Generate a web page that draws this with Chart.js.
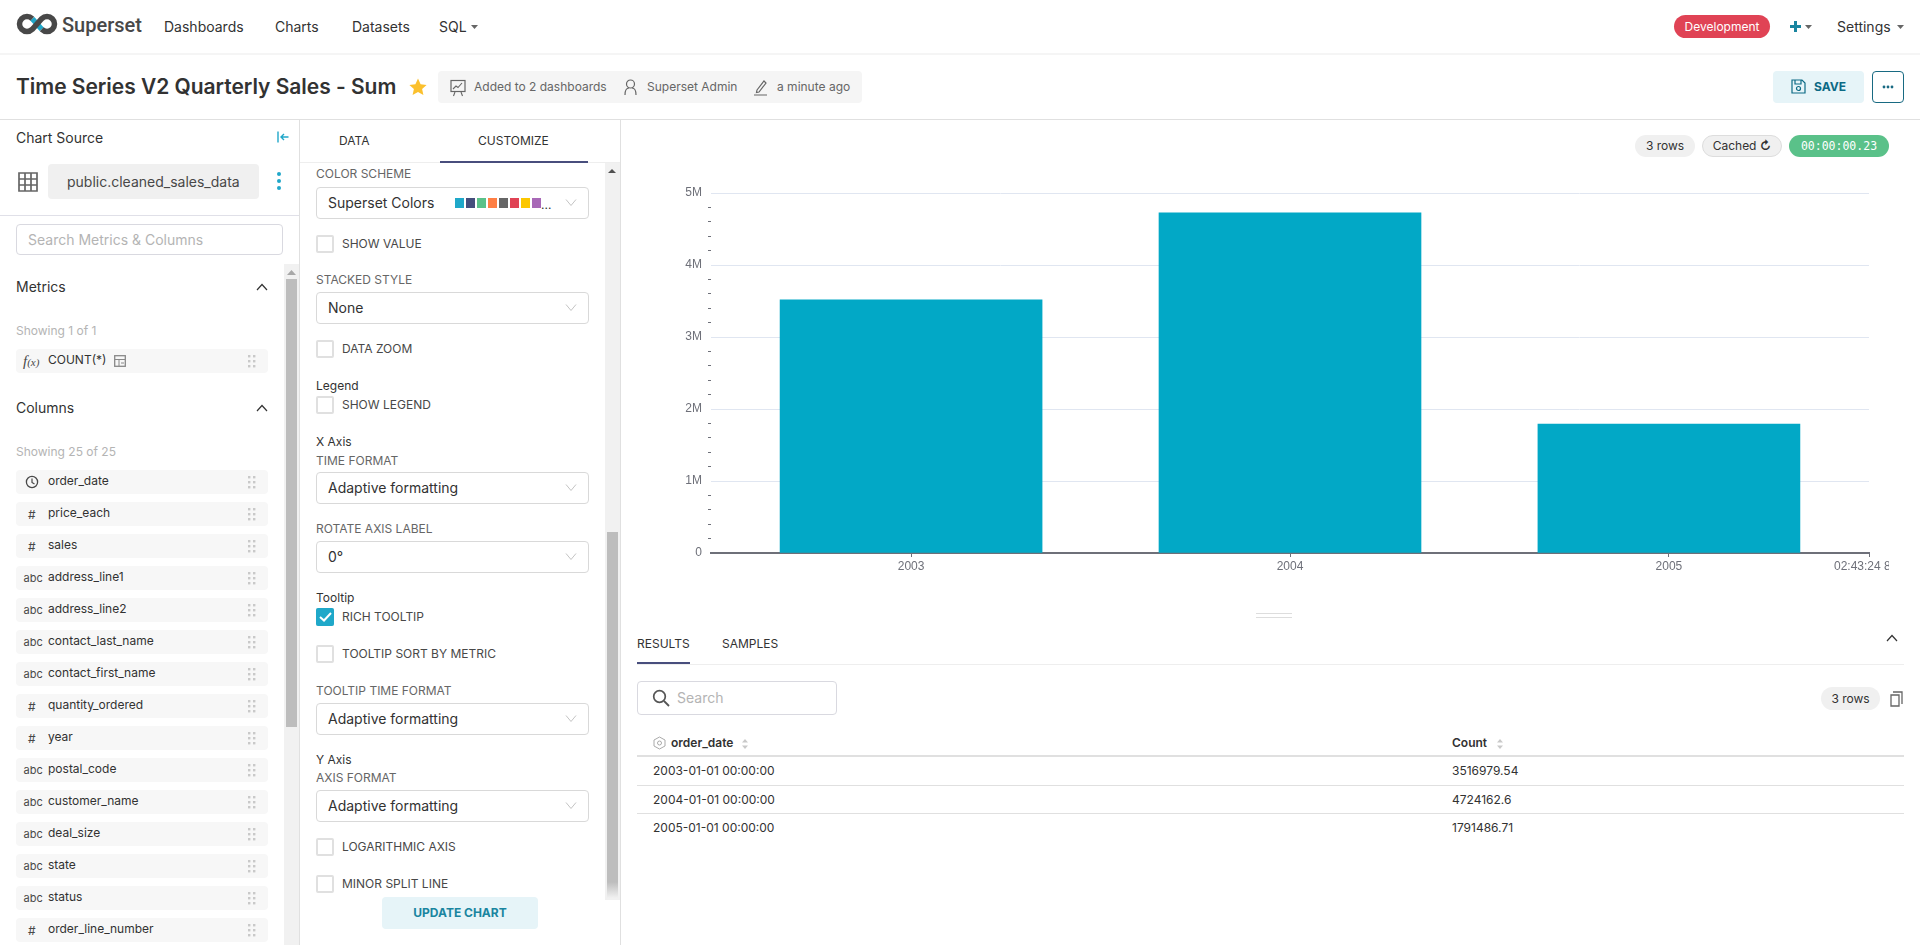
<!DOCTYPE html>
<html>
<head>
<meta charset="utf-8">
<title>Time Series V2 Quarterly Sales - Sum</title>
<script src="https://cdn.jsdelivr.net/npm/chart.js@4/dist/chart.umd.js"></script>
<style>
  html, body { margin: 0; height: 100%; background: #fff; overflow: hidden; }
  body { font-family: Inter, "Noto Sans", sans-serif; color: #323232; font-size: 14px; position: relative; width: 1920px; height: 945px; }
  .a { position: absolute; white-space: nowrap; }
  .t { position: absolute; white-space: nowrap; transform: translateY(-50%); line-height: 1.2; }
  .s12 { font-size: 12px; }
  .grey { color: #666; }
  .light { color: #b4b4b4; }
  .sel { position: absolute; left: 316px; width: 271px; height: 30px; border: 1px solid #d9d9d9; border-radius: 4px; background: #fff; }
  .sel span { position: absolute; left: 11px; top: calc(50% - 1px); transform: translateY(-50%); font-size: 14px; color: #323232; }
  .sel svg { position: absolute; right: 11px; top: 10px; }
  .cb { position: absolute; left: 316px; width: 14px; height: 14px; border: 2px solid #e0e0e0; border-radius: 2px; background: #fff; }
  .row { position: absolute; left: 16px; width: 252px; height: 24px; background: #f7f7f7; border-radius: 4px; }
  .pill { position: absolute; border-radius: 12px; font-size: 12px; text-align: center; box-sizing: border-box; }
  #chartClip { position: absolute; left: 620px; top: 120px; width: 1269px; height: 480px; overflow: hidden; }
  #chartBox { position: relative; width: 1300px; height: 480px; }
</style>
</head>
<body>

<div id="chrome"></div>

<div id="chartClip"><div id="chartBox"><canvas id="myChart"></canvas></div></div>

<script>
const years = [2003, 2004, 2005];
const orderDates = ['2003-01-01 00:00:00', '2004-01-01 00:00:00', '2005-01-01 00:00:00'];
const salesValues = [3516979.54, 4724162.6, 1791486.71];
const yTickValues = [0, 200000, 400000, 600000, 800000, 1000000, 1200000, 1400000, 1600000, 1800000, 2000000, 2200000, 2400000, 2600000, 2800000, 3000000, 3200000, 3400000, 3600000, 3800000, 4000000, 4200000, 4400000, 4600000, 4800000, 5000000];
const yMajorLabels = { 0: '0', 1000000: '1M', 2000000: '2M', 3000000: '3M', 4000000: '4M', 5000000: '5M' };
const xAxisStart = 2002.472;
const xAxisEnd = 2005.528;
const xEndLabel = '02:43:24 856';

const metricsColumns = [
    ['clock', 'order_date'], ['#', 'price_each'], ['#', 'sales'], ['abc', 'address_line1'], ['abc', 'address_line2'],
    ['abc', 'contact_last_name'], ['abc', 'contact_first_name'], ['#', 'quantity_ordered'], ['#', 'year'],
    ['abc', 'postal_code'], ['abc', 'customer_name'], ['abc', 'deal_size'], ['abc', 'state'], ['abc', 'status'],
    ['#', 'order_line_number']
];
const schemeColors = ['#1FA8C9', '#454E7C', '#5AC189', '#FF7F44', '#666666', '#E04355', '#FCC700', '#A868B7'];

// page chrome around the chart
let html = '';
const text = (x, y, str, cls = '', style = '') => { html += `<div class="t ${cls}" style="left:${x}px;top:${y}px;${style}">${str}</div>`; };
const box = (x, y, w, h, style = '') => { html += `<div class="a" style="left:${x}px;top:${y}px;width:${w}px;height:${h}px;${style}"></div>`; };
const chevron = '<svg width="12" height="9" viewBox="0 0 12 9"><path d="M1 1.5 L6 7.5 L11 1.5" fill="none" stroke="#c4c4c4" stroke-width="1"/></svg>';
const svg = (x, y, w, h, inner) => { html += `<svg class="a" style="left:${x}px;top:${y}px" width="${w}" height="${h}" viewBox="0 0 ${w} ${h}">${inner}</svg>`; };
const caret = (x, y, c = '#666') => svg(x, y, 7, 4, `<path d="M0 0 L7 0 L3.5 4 Z" fill="${c}"/>`);
const upChevron = (x, y) => svg(x, y, 12, 8, '<path d="M1 7 L6 1.5 L11 7" fill="none" stroke="#323232" stroke-width="1.2"/>');
const select = (y, label) => { html += `<div class="sel" style="top:${y}px"><span>${label}</span>${chevron}</div>`; };
const check = (y, label) => { html += `<div class="cb" style="top:${y}px"></div>`; text(342, y + 9, label, 's12', 'color:#484848'); };
const dragDots = (x, y) => {
    let d = '';
    for (const r of [0, 5, 10]) for (const c of [0, 5]) d += `<rect x="${c}" y="${r}" width="2.4" height="2.4" fill="#c9c9c9"/>`;
    svg(x, y, 8, 13, d);
};

// top nav
box(0, 53, 1920, 2, 'background:#f5f5f5');
svg(15, 13, 44, 22, '<path d="M17.3 5.7 L26.7 16.3" fill="none" stroke="#20A7C9" stroke-width="5.5"/><path d="M17.3 5.7 A7.5 7.5 0 1 0 17.3 16.3 L26.7 5.7 A7.5 7.5 0 1 1 26.7 16.3" fill="none" stroke="#484848" stroke-width="5.5"/>');
text(62, 25, 'Superset', '', 'font-family:Roboto,sans-serif;font-size:20px;font-weight:500;color:#484848');
text(164, 27, 'Dashboards');
text(275, 27, 'Charts');
text(352, 27, 'Datasets');
text(439, 27, 'SQL');
caret(471, 25);
box(1674, 15, 96, 23, 'background:#E04355;border-radius:12px');
text(1722, 26.5, 'Development', 's12', 'color:#fff;transform:translate(-50%,-50%)');
svg(1790, 21, 11, 11, '<path d="M5.5 0 V11 M0 5.5 H11" stroke="#1A85A0" stroke-width="3"/>');
caret(1805, 25);
text(1837, 27, 'Settings');
caret(1897, 25);

// title bar
box(0, 119, 1920, 1, 'background:#e0e0e0');
text(16, 87, 'Time Series V2 Quarterly Sales - Sum', '', 'font-size:21px;font-weight:600;color:#323232;letter-spacing:-.03px');
svg(409, 78, 18, 18, '<path d="M9 0.5 L11.6 6.2 L17.6 6.9 L13.1 11 L14.4 17 L9 13.9 L3.6 17 L4.9 11 L0.4 6.9 L6.4 6.2 Z" fill="#FBC02D"/>');
box(438, 71, 424, 32, 'background:#f5f5f5;border-radius:4px');
svg(450, 79, 16, 18, '<rect x="1" y="1.5" width="14" height="11" fill="none" stroke="#666" stroke-width="1.2"/><path d="M3 10 L6 7 L8 8.5 L12 4 M5 13 L3.5 17 M11 13 L12.5 17" fill="none" stroke="#666" stroke-width="1.1"/>');
text(474, 87, 'Added to 2 dashboards', 's12 grey');
svg(623, 79, 15, 17, '<circle cx="7.5" cy="5" r="4" fill="none" stroke="#666" stroke-width="1.2"/><path d="M2 16 C2 11 4 9 6 9 M13 16 C13 11 11 9 9 9" fill="none" stroke="#666" stroke-width="1.2"/>');
text(647, 87, 'Superset Admin', 's12 grey');
svg(753, 79, 15, 17, '<path d="M4 11 L11 2 L13 4 L6 13 L3.5 13.5 Z M1 16 H14" fill="none" stroke="#666" stroke-width="1.2"/>');
text(777, 87, 'a minute ago', 's12 grey');
box(1773, 71, 91, 32, 'background:#E6F4F8;border-radius:4px');
svg(1791, 79, 15, 15, '<path d="M1 1 H11 L14 4 V14 H1 Z M4 1 V5 H10 V1" fill="none" stroke="#0C6A85" stroke-width="1.2"/><circle cx="7.5" cy="9.5" r="2" fill="none" stroke="#0C6A85" stroke-width="1.2"/>');
text(1814, 87, 'SAVE', 's12', 'font-weight:700;color:#0C6A85');
box(1872, 71, 30, 30, 'border:1px solid #186A82;border-radius:4px');
svg(1882, 85, 12, 4, '<circle cx="2" cy="2" r="1.4" fill="#186A82"/><circle cx="6" cy="2" r="1.4" fill="#186A82"/><circle cx="10" cy="2" r="1.4" fill="#186A82"/>');

// left panel
box(299, 120, 1, 825, 'background:#e0e0e0');
text(16, 138, 'Chart Source');
svg(277, 131, 12, 12, '<path d="M1 0.5 V11.5 M11.5 6 H4 M7 3 L4 6 L7 9" fill="none" stroke="#20A7C9" stroke-width="1.4"/>');
svg(18, 172, 20, 20, '<path d="M1 1 H19 V19 H1 Z M1 7 H19 M1 13 H19 M7 1 V19 M13 1 V19" fill="none" stroke="#666" stroke-width="1.7"/>');
box(48, 164, 211, 35, 'background:#f0f0f0;border-radius:4px');
text(67, 182, 'public.cleaned_sales_data', '', 'color:#484848');
svg(276, 171, 6, 20, '<circle cx="3" cy="3" r="2" fill="#20A7C9"/><circle cx="3" cy="10" r="2" fill="#20A7C9"/><circle cx="3" cy="17" r="2" fill="#20A7C9"/>');
box(0, 215, 299, 1, 'background:#e0e0e8');
box(16, 224, 265, 29, 'border:1px solid #d9d9e0;border-radius:4px');
text(28, 240, 'Search Metrics &amp; Columns', 'light');
box(284, 264, 15, 681, 'background:#f1f1f1');
box(286, 279, 11, 448, 'background:#bdbdbd');
svg(287, 270, 9, 5, '<path d="M4.5 0 L9 5 L0 5 Z" fill="#a8a8a8"/>');

text(16, 287, 'Metrics');
upChevron(256, 283);
text(16, 331, 'Showing 1 of 1', 's12 light');
html += '<div class="row" style="top:349px"></div>';
text(23, 361, 'f<span style="font-size:11px">(x)</span>', '', 'font-family:\'Liberation Serif\',serif;font-style:italic;font-size:15px;color:#484848');
text(48, 360, 'COUNT(*)', 's12');
svg(114, 355, 12, 12, '<rect x="0.7" y="0.7" width="10.6" height="10.6" fill="none" stroke="#888" stroke-width="1.3"/><path d="M1 4.5 H11 M5 4.5 V11 M7 8 H10" stroke="#888"/>');
dragDots(248, 355);
text(16, 408, 'Columns');
upChevron(256, 404);
text(16, 452, 'Showing 25 of 25', 's12 light');
metricsColumns.forEach(([type, name], i) => {
    const top = 470 + 32 * i;
    html += `<div class="row" style="top:${top}px"></div>`;
    if (type === 'abc') text(23.5, top + 12.5, 'abc', '', 'font-size:11px;color:#484848');
    else if (type === '#') text(28, top + 12.5, '#', '', 'font-size:12px;color:#484848');
    else svg(25, top + 5, 14, 14, '<circle cx="7" cy="7" r="5.6" fill="none" stroke="#484848" stroke-width="1.3"/><path d="M7 3.5 V7.5 L9.5 9" fill="none" stroke="#484848" stroke-width="1.2"/>');
    text(48, top + 11, name, 's12');
    dragDots(248, top + 6);
});

// middle panel
box(620, 120, 1, 825, 'background:#e0e0e0');
text(339, 141, 'DATA', 's12');
text(478, 141, 'CUSTOMIZE', 's12');
box(300, 162, 320, 1, 'background:#eeeeee');
box(440, 161, 148, 2, 'background:#484E7D');
box(605, 163, 15, 737, 'background:#f1f1f1');
box(607, 532, 11, 350, 'background:#bdbdbd');
box(607, 882, 11, 16, 'background:linear-gradient(#bdbdbd,#f1f1f1)');
svg(608, 169, 8, 4, '<path d="M4 0 L8 4 L0 4 Z" fill="#505050"/>');

text(316, 174, 'COLOR SCHEME', 's12 grey');
select(187, 'Superset Colors');
schemeColors.forEach((c, i) => box(455 + 11 * i, 198, 9, 10, 'background:' + c));
text(541, 205, '...', 's12');
check(235, 'SHOW VALUE');
text(316, 280, 'STACKED STYLE', 's12 grey');
select(292, 'None');
check(340, 'DATA ZOOM');
text(316, 386, 'Legend', 's12');
check(396, 'SHOW LEGEND');
text(316, 442, 'X Axis', 's12');
text(316, 461, 'TIME FORMAT', 's12 grey');
select(472, 'Adaptive formatting');
text(316, 529, 'ROTATE AXIS LABEL', 's12 grey');
select(541, '0°');
text(316, 598, 'Tooltip', 's12');
check(608, 'RICH TOOLTIP');
box(316, 608, 18, 18, 'background:#1FA8C9;border-radius:2px');
svg(319, 612, 13, 10, '<path d="M1 5 L5 8.5 L12 1" fill="none" stroke="#fff" stroke-width="2"/>');
check(645, 'TOOLTIP SORT BY METRIC');
text(316, 691, 'TOOLTIP TIME FORMAT', 's12 grey');
select(703, 'Adaptive formatting');
text(316, 760, 'Y Axis', 's12');
text(316, 778, 'AXIS FORMAT', 's12 grey');
select(790, 'Adaptive formatting');
check(838, 'LOGARITHMIC AXIS');
check(875, 'MINOR SPLIT LINE');
box(382, 897, 156, 32, 'background:#E6F4F8;border-radius:4px');
text(460, 913, 'UPDATE CHART', 's12', 'font-weight:700;color:#1A85A0;transform:translate(-50%,-50%)');

// status pills over the chart
html += '<div class="pill" style="left:1635px;top:135px;width:60px;height:22px;line-height:22px;background:#f0f0f0">3 rows</div>';
html += '<div class="pill" style="left:1702px;top:135px;width:80px;height:22px;line-height:20px;background:#f0f0f0;border:1px solid #ddd">Cached <span style="font-size:12px;font-weight:700">&#x21bb;</span></div>';
html += '<div class="pill" style="left:1789px;top:135px;width:100px;height:22px;line-height:22px;background:#5AC189;color:#fff;font-family:\'DejaVu Sans Mono\',monospace;font-size:11.5px">00:00:00.23</div>';

// results pane
box(1256, 613, 36, 1, 'background:#dddddd');
box(1256, 617, 36, 1, 'background:#dddddd');
text(637, 644, 'RESULTS', 's12');
text(722, 644, 'SAMPLES', 's12');
box(637, 664, 1267, 1, 'background:#eeeeee');
box(637, 662, 53, 2, 'background:#484E7D');
upChevron(1886, 634);
box(637, 681, 198, 32, 'border:1px solid #d9d9e0;border-radius:4px');
svg(652, 689, 18, 18, '<circle cx="7.5" cy="7.5" r="5.8" fill="none" stroke="#555" stroke-width="1.7"/><path d="M12 12 L17 17" stroke="#555" stroke-width="1.8"/>');
text(677, 698, 'Search', 'light');
html += '<div class="pill" style="left:1821px;top:687px;width:59px;height:23px;line-height:23px;background:#f0f0f0">3 rows</div>';
svg(1890, 691, 13, 16, '<path d="M3 1 H12 V13 M1 4 H9 V15 H1 Z" fill="none" stroke="#666" stroke-width="1.3"/>');
svg(653, 736, 13, 14, '<path d="M6.5 1 L12 4 V10 L6.5 13 L1 10 V4 Z" fill="none" stroke="#aaa"/><circle cx="6.5" cy="7" r="2" fill="none" stroke="#aaa"/>');
text(671, 743, 'order_date', 's12', 'font-weight:600');
text(1452, 743, 'Count', 's12', 'font-weight:600');
for (const x of [742, 1497]) svg(x, 739, 6, 10, '<path d="M3 0 L6 3.5 H0 Z M3 10 L6 6.5 H0 Z" fill="#c9c9c9"/>');
box(637, 755, 1267, 2, 'background:#e0e0e0');
orderDates.forEach((d, i) => {
    const y = [771, 800, 828][i];
    text(653, y, d, 's12');
    text(1452, y, String(salesValues[i]), 's12');
    if (i < 2) box(637, [785, 813][i], 1267, 1, 'background:#e0e0e0');
});
document.getElementById('chrome').innerHTML = html;

// the chart itself
const ctx = document.getElementById('myChart').getContext('2d');
new Chart(ctx, {
    type: 'bar',
    data: {
        datasets: [{
            label: 'Count',
            data: years.map((year, i) => ({ x: year, y: salesValues[i] })),
            backgroundColor: '#02A8C6',
            barThickness: 262
        }]
    },
    options: {
        animation: false,
        responsive: true,
        maintainAspectRatio: false,
        layout: { padding: { top: 73, right: 51, bottom: 0, left: 0 } },
        plugins: { legend: { display: false }, tooltip: { enabled: false } },
        scales: {
            x: {
                type: 'linear',
                offset: false,
                min: xAxisStart,
                max: xAxisEnd,
                afterBuildTicks: (axis) => {
                    axis.ticks = years.concat(xAxisEnd).map(value => ({ value }));
                },
                afterFit: (axis) => { axis.height = 47; },
                grid: { offset: false, drawOnChartArea: false, drawTicks: true, tickLength: 4, tickColor: '#6E7079' },
                border: { display: true, color: '#6E7079', width: 2 },
                ticks: {
                    autoSkip: false,
                    maxRotation: 0,
                    padding: 2,
                    color: '#6E7079',
                    font: { family: 'Liberation Sans', size: 12 },
                    callback: (value) => value === xAxisEnd ? xEndLabel : String(value)
                }
            },
            y: {
                min: 0,
                max: 5000000,
                afterBuildTicks: (axis) => {
                    axis.ticks = yTickValues.map(value => ({ value }));
                },
                afterFit: (axis) => { axis.width = 91; },
                grid: {
                    drawTicks: true,
                    tickLength: 3,
                    color: (c) => yMajorLabels[c.tick.value] !== undefined && c.tick.value !== 0 ? '#E0E6F1' : 'transparent',
                    tickColor: (c) => yMajorLabels[c.tick.value] !== undefined ? 'transparent' : '#6E7079'
                },
                border: { display: false },
                ticks: {
                    autoSkip: false,
                    padding: 6,
                    color: '#6E7079',
                    font: { family: 'Liberation Sans', size: 12 },
                    callback: (value) => yMajorLabels[value] !== undefined ? yMajorLabels[value] : ''
                }
            }
        }
    }
});
</script>
</body>
</html>
